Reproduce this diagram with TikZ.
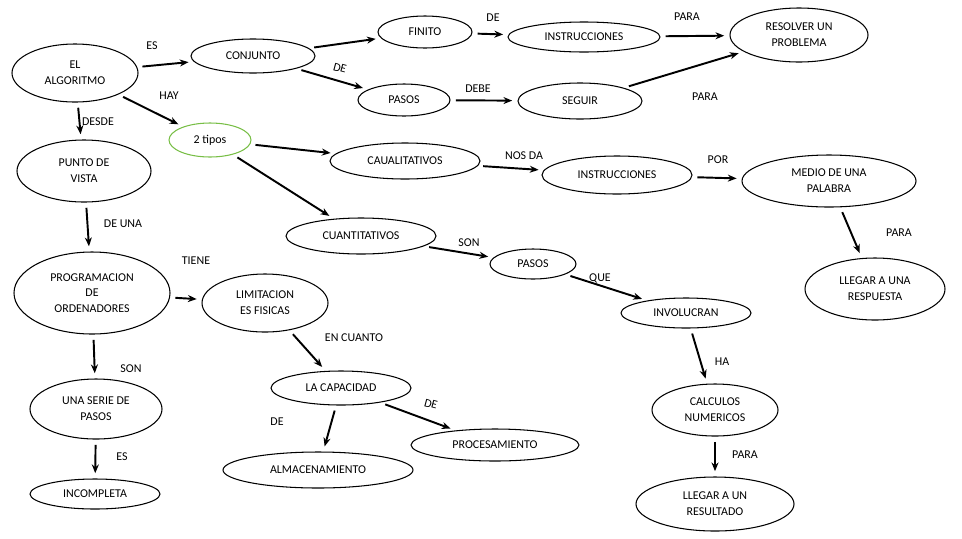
\documentclass[tikz,border=0pt]{standalone}
\usepackage{fontspec}
\setmainfont{Carlito}
\usetikzlibrary{shapes.geometric, arrows.meta}
\tikzset{
    bub/.style 2 args={draw=black, line width=0.6pt, ellipse, inner sep=0pt,
        minimum width=#1*0.02cm, minimum height=#2*0.02cm, align=center,
        font=\fontsize{6.8}{9}\selectfont},
    lab/.style={font=\fontsize{6.8}{9}\selectfont},
    link/.style={line width=1.1pt, -{Stealth[length=5pt,width=4pt]}, shorten <=3pt, shorten >=3pt}
}
\begin{document}
\begin{tikzpicture}[x=0.02cm, y=-0.02cm]
        \useasboundingbox (0,0) rectangle (962,538);
        % nodes
        \node[bub={126}{58}] (algo) at (75,73) {EL\\ALGORITMO};
        \node[bub={124}{34}] (conj) at (253,56) {CONJUNTO};
        \node[bub={94}{32}] (finito) at (425,32) {FINITO};
        \node[bub={152}{30}] (instrA) at (584,37) {INSTRUCCIONES};
        \node[bub={138}{54}] (resolver) at (799,35) {RESOLVER UN\\PROBLEMA};
        \node[bub={92}{32}] (pasosA) at (404,100) {PASOS};
        \node[bub={124}{36}] (seguir) at (580,101) {SEGUIR};
        \node[bub={82}{34}, draw={rgb,255:red,120;green,190;blue,70}] (tipos) at (210,140) {2 tipos};
        \node[bub={134}{62}] (punto) at (84,171) {PUNTO DE\\VISTA};
        \node[bub={150}{36}] (caual) at (405,161) {CAUALITATIVOS};
        \node[bub={150}{38}] (instrB) at (617,175) {INSTRUCCIONES};
        \node[bub={174}{52}] (medio) at (829,181) {MEDIO DE UNA\\PALABRA};
        \node[bub={150}{36}] (cuant) at (361,236) {CUANTITATIVOS};
        \node[bub={86}{30}] (pasosB) at (533,264) {PASOS};
        \node[bub={140}{62}] (resp) at (875,289) {LLEGAR A UNA\\RESPUESTA};
        \node[bub={156}{82}] (prog) at (92,293) {PROGRAMACION\\DE\\ORDENADORES};
        \node[bub={126}{58}] (limit) at (265,303) {LIMITACION\\ES FISICAS};
        \node[bub={130}{30}] (invol) at (686,313) {INVOLUCRAN};
        \node[bub={140}{34}] (capac) at (341,388) {LA CAPACIDAD};
        \node[bub={132}{60}] (serie) at (96,409) {UNA SERIE DE\\PASOS};
        \node[bub={126}{52}] (calc) at (715,410) {CALCULOS\\NUMERICOS};
        \node[bub={168}{32}] (proces) at (495,445) {PROCESAMIENTO};
        \node[bub={190}{36}] (almac) at (318,470) {ALMACENAMIENTO};
        \node[bub={130}{30}] (incomp) at (95,494) {INCOMPLETA};
        \node[bub={158}{54}] (result) at (715,504) {LLEGAR A UN\\RESULTADO};
        % connectors
        \foreach \a/\b in {algo/conj, conj/finito, finito/instrA, instrA/resolver,
            conj/pasosA, pasosA/seguir, seguir/resolver, algo/tipos, algo/punto,
            tipos/caual, caual/instrB, instrB/medio, medio/resp, tipos/cuant,
            cuant/pasosB, pasosB/invol, invol/calc, calc/result, punto/prog,
            prog/limit, limit/capac, capac/almac, capac/proces, prog/serie,
            serie/incomp}
            \draw[link] (\a) -- (\b);
        % labels
        \node[lab] (l1) at (152,46) {ES};
        \node[lab] (l2) at (493,18) {DE};
        \node[lab] (l3) at (687,17) {PARA};
        \node[lab, rotate=-15] (l4) at (340,68) {DE};
        \node[lab] (l5) at (478,89) {DEBE};
        \node[lab] (l6) at (705,97) {PARA};
        \node[lab] (l7) at (169,96) {HAY};
        \node[lab] (l8) at (98,122) {DESDE};
        \node[lab] (l9) at (524,156) {NOS DA};
        \node[lab] (l10) at (718,160) {POR};
        \node[lab] (l11) at (123,224) {DE UNA};
        \node[lab] (l12) at (469,243) {SON};
        \node[lab] (l13) at (899,233) {PARA};
        \node[lab] (l14) at (196,261) {TIENE};
        \node[lab] (l15) at (600,278) {QUE};
        \node[lab] (l16) at (354,338) {EN CUANTO};
        \node[lab] (l17) at (722,362) {HA};
        \node[lab] (l18) at (131,369) {SON};
        \node[lab, rotate=-15] (l19) at (431,404) {DE};
        \node[lab] (l20) at (277,422) {DE};
        \node[lab] (l21) at (122,457) {ES};
        \node[lab] (l22) at (745,455) {PARA};
    \end{tikzpicture}
\end{document}
